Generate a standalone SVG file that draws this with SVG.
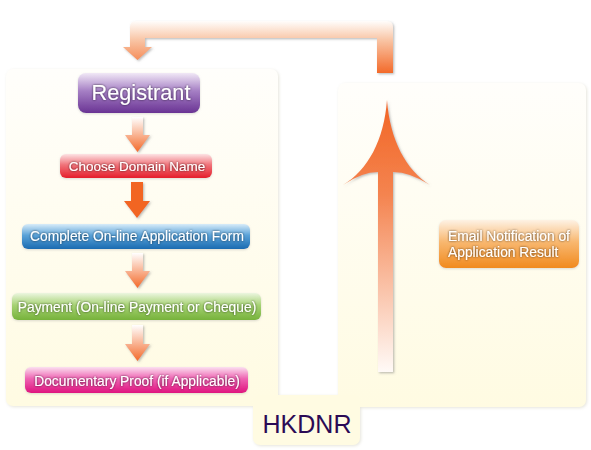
<svg xmlns="http://www.w3.org/2000/svg" width="591" height="450" viewBox="0 0 591 450">
<defs>
<style>
.panel{fill:url(#gPanel);}
.lbl{font-family:"Liberation Sans",Arial,sans-serif;fill:#ffffff;filter:url(#tsh);}
.node{filter:url(#nsh);}
.arr{fill:url(#gArr);filter:url(#ash);}
</style>
<filter id="psh" x="-5%" y="-5%" width="110%" height="110%"><feDropShadow dx="1" dy="1" stdDeviation="1.5" flood-color="#c8c4b0" flood-opacity="0.45"/></filter>
<filter id="nsh" x="-10%" y="-20%" width="120%" height="150%"><feDropShadow dx="0" dy="1" stdDeviation="0.8" flood-color="#999" flood-opacity="0.35"/></filter>
<filter id="ash" x="-20%" y="-20%" width="150%" height="150%"><feDropShadow dx="1.2" dy="1.2" stdDeviation="0.8" flood-color="#777" flood-opacity="0.5"/></filter>
<filter id="tsh" x="-10%" y="-30%" width="120%" height="160%"><feDropShadow dx="0" dy="0" stdDeviation="1" flood-color="#000" flood-opacity="0.7"/></filter>
<linearGradient id="gPanel" x1="0" y1="0" x2="0" y2="1"><stop offset="0" stop-color="#fffefb"/><stop offset="1" stop-color="#fffbe2"/></linearGradient>
<linearGradient id="gArr" x1="0" y1="0" x2="0" y2="1"><stop offset="0" stop-color="#ffffff"/><stop offset="1" stop-color="#f36a2a"/></linearGradient>
<linearGradient id="gTop" gradientUnits="userSpaceOnUse" x1="0" y1="21" x2="0" y2="73"><stop offset="0" stop-color="#fffdfb"/><stop offset="0.35" stop-color="#f9c7a8"/><stop offset="1" stop-color="#f36a2a"/></linearGradient>
<linearGradient id="gUp" gradientUnits="userSpaceOnUse" x1="0" y1="100" x2="0" y2="372"><stop offset="0" stop-color="#f26524"/><stop offset="0.35" stop-color="#f48450"/><stop offset="1" stop-color="#fffaf7"/></linearGradient>
<linearGradient id="gPur" x1="0" y1="0" x2="0" y2="1"><stop offset="0" stop-color="#f1e8f6"/><stop offset="0.45" stop-color="#a57fc4"/><stop offset="1" stop-color="#6a3494"/></linearGradient>
<linearGradient id="gRed" x1="0" y1="0" x2="0" y2="1"><stop offset="0" stop-color="#fde3e4"/><stop offset="0.45" stop-color="#f0737a"/><stop offset="1" stop-color="#e51e2b"/></linearGradient>
<linearGradient id="gBlu" x1="0" y1="0" x2="0" y2="1"><stop offset="0" stop-color="#d8ecf9"/><stop offset="0.45" stop-color="#5aa2d8"/><stop offset="1" stop-color="#1a6bb1"/></linearGradient>
<linearGradient id="gGrn" x1="0" y1="0" x2="0" y2="1"><stop offset="0" stop-color="#ecf6df"/><stop offset="0.45" stop-color="#a6d274"/><stop offset="1" stop-color="#76b23a"/></linearGradient>
<linearGradient id="gMag" x1="0" y1="0" x2="0" y2="1"><stop offset="0" stop-color="#fbe0f0"/><stop offset="0.45" stop-color="#ee63b2"/><stop offset="1" stop-color="#df127e"/></linearGradient>
<linearGradient id="gOra" x1="0" y1="0" x2="0" y2="1"><stop offset="0" stop-color="#fef2e4"/><stop offset="0.45" stop-color="#f8b871"/><stop offset="1" stop-color="#f18a1e"/></linearGradient>
</defs>
<rect width="591" height="450" fill="#ffffff"/>
<g id="panels" filter="url(#psh)">
<rect class="panel" x="6" y="69" width="272" height="337" rx="7"/>
<rect class="panel" x="338" y="83" width="248" height="324" rx="7"/>
<rect x="253" y="395" width="107" height="50" rx="7" fill="#fffbe2"/>
</g>
<g id="hkdnr">
<text x="307" y="433" text-anchor="middle" font-family="'Liberation Sans',Arial,sans-serif" font-size="25" fill="#2b0a55">HKDNR</text>
</g>
<g id="connectors">
<path d="M377,73 L377,38 L145,38 L145,47 L152,47 L137.5,60 L123,47 L130,47 L130,27 Q130,21 136,21 L387,21 Q393,21 393,27 L393,73 Z" fill="url(#gTop)" filter="url(#ash)"/>
<path d="M387,100 C384,140 368,170 343,185 Q362,172 378,172 L378,372 L393,372 L393,172 Q410,172 430,185 C406,170 390,140 387,100 Z" fill="url(#gUp)" filter="url(#ash)"/>
<path class="arr" d="M132,117 L143,117 L143,135 L150,135 L137.5,152 L125,135 L132,135 Z"/>
<path d="M131,182 L143,182 L143,201 L150,201 L137,218 L124,201 L131,201 Z" fill="#f26522" filter="url(#ash)"/>
<path class="arr" d="M132,253 L143,253 L143,271 L150,271 L137.5,288 L125,271 L132,271 Z"/>
<path class="arr" d="M132,325 L143,325 L143,344 L150,344 L137.5,361 L125,344 L132,344 Z"/>
</g>
<g id="registrant" class="node">
<rect x="78" y="73" width="122" height="40" rx="8" fill="url(#gPur)"/>
<text class="lbl" x="141" y="100" text-anchor="middle" font-size="21.7">Registrant</text>
</g>
<g id="choose" class="node">
<rect x="60" y="154" width="152" height="24" rx="6" fill="url(#gRed)"/>
<text class="lbl" x="137" y="170.5" text-anchor="middle" font-size="13.5">Choose Domain Name</text>
</g>
<g id="complete" class="node">
<rect x="22" y="224" width="228" height="25" rx="6" fill="url(#gBlu)"/>
<text class="lbl" x="137" y="241" text-anchor="middle" font-size="13.8">Complete On-line Application Form</text>
</g>
<g id="payment" class="node">
<rect x="12" y="293" width="249" height="27" rx="6" fill="url(#gGrn)"/>
<text class="lbl" x="137" y="311.5" text-anchor="middle" font-size="13.8">Payment (On-line Payment or Cheque)</text>
</g>
<g id="documentary" class="node">
<rect x="25" y="367" width="223" height="26" rx="6" fill="url(#gMag)"/>
<text class="lbl" x="137" y="385.5" text-anchor="middle" font-size="13.8">Documentary Proof (if Applicable)</text>
</g>
<g id="email" class="node">
<rect x="439" y="220" width="140" height="48" rx="7" fill="url(#gOra)"/>
<text class="lbl" x="448" y="241" font-size="13.8">Email Notification of</text>
<text class="lbl" x="448" y="257" font-size="13.8">Application Result</text>
</g>
</svg>
